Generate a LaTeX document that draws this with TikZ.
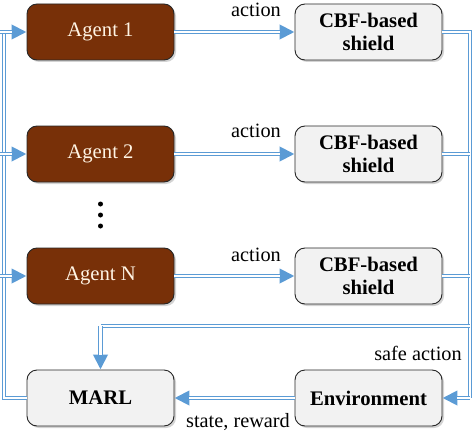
\documentclass[tikz,border=0pt]{standalone}
\usepackage{fontspec}
\setmainfont{Liberation Serif}
\usetikzlibrary{arrows.meta,shadows}
\definecolor{lblue}{RGB}{91,155,213}
\definecolor{agentbrown}{RGB}{120,48,8}
\definecolor{cream}{RGB}{255,244,228}
\definecolor{shieldgray}{RGB}{242,242,242}
\begin{document}
\begin{tikzpicture}[x=1pt,y=-1pt,
  box/.style={draw=black!85, line width=0.9pt, rounded corners=10pt,
    minimum width=147pt, minimum height=56pt, align=center, inner sep=0pt,
    drop shadow={shadow xshift=2pt, shadow yshift=-2pt, opacity=0.35},
    font=\fontsize{20.7}{23.5}\selectfont},
  agentbox/.style={box, fill=agentbrown, text=cream},
  shieldbox/.style={box, fill=shieldgray, font=\fontsize{20.7}{23.5}\selectfont\bfseries},
  dl/.style={draw=lblue, double=white, line width=1.2pt, double distance=2.2pt},
  arr/.style={draw=white, line width=2.2pt, shorten >=14.5pt,
    preaction={draw=lblue, line width=4.6pt, shorten >=0pt,
      -{Triangle[length=15pt,width=14pt]}}},
  lbl/.style={font=\fontsize{20.3}{23}\selectfont, inner sep=0pt},
  dot/.style={circle, fill=black, inner sep=0pt, minimum size=5pt},
  ]
\useasboundingbox (0,0) rectangle (474,436);

% nodes
\node[agentbox] (a1) at (100.5,32) {Agent 1};
\node[agentbox] (a2) at (100.5,154) {Agent 2};
\node[agentbox] (aN) at (100.5,276) {Agent N};
\node[shieldbox] (s1) at (368.5,32) {CBF-based\\shield};
\node[shieldbox] (s2) at (368.5,154) {CBF-based\\shield};
\node[shieldbox] (s3) at (368.5,276) {CBF-based\\shield};
\node[shieldbox] (marl) at (100.5,398) {MARL};
\node[shieldbox] (env) at (368.5,398) {Environment};

\node[dot] (d1) at (100.5,204) {};
\node[dot] (d2) at (100.5,215) {};
\node[dot] (d3) at (100.5,226) {};

% helper coordinates
\coordinate (lt) at (4,32);
\coordinate (lb) at (4,398);
\coordinate (l2) at (0,154);
\coordinate (l3) at (0,276);
\coordinate (l1) at (0,32);
\coordinate (rt) at (470,32);
\coordinate (rb) at (470,398);
\coordinate (r2) at (470,154);
\coordinate (r3) at (470,276);
\coordinate (rm) at (470,326);
\coordinate (mm) at (100.5,326);

% connectors
\draw[dl] (s1.east) -- (rt) -- (rb);
\draw[dl] (s2.east) -- (r2);
\draw[dl] (s3.east) -- (r3);
\draw[dl] (rm) -- (mm);
\draw[dl] (marl.west) -- (lb) -- (lt);
\draw[dl] (l1) -- (lt);
\draw[arr] (lt) -- (a1.west);
\draw[arr] (l2) -- (a2.west);
\draw[arr] (l3) -- (aN.west);
\draw[arr] (rb) -- (env.east);
\draw[arr] (mm) -- (marl.north);
\draw[arr] (a1.east) -- (s1.west);
\draw[arr] (a2.east) -- (s2.west);
\draw[arr] (aN.east) -- (s3.west);
\draw[arr] (env.west) -- (marl.east);

% labels
\node[lbl] (t1) at (256,10) {action};
\node[lbl] (t2) at (256,131) {action};
\node[lbl] (t3) at (256,255) {action};
\node[lbl] (t4) at (418,353) {safe action};
\node[lbl] (t5) at (238,422) {state, reward};
\end{tikzpicture}
\end{document}
